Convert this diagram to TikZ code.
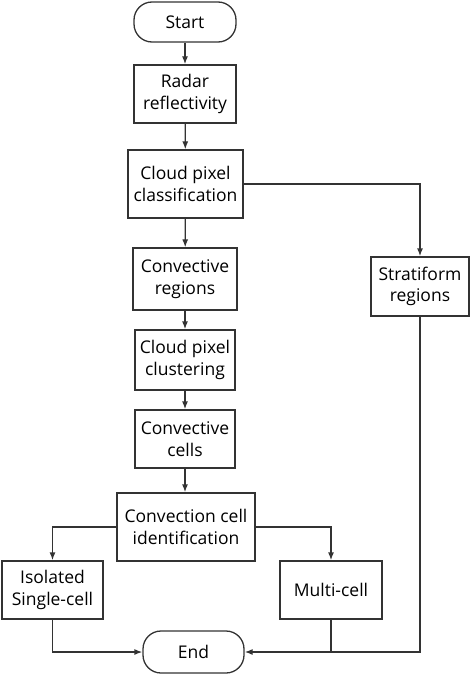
\documentclass[tikz,border=0pt]{standalone}
\usepackage{fontspec}
\setmainfont{Open Sans}
\usetikzlibrary{arrows.meta,positioning}
\begin{document}
\begin{tikzpicture}[x=1pt,y=-1pt,
  every node/.style={font=\fontsize{17.5}{21.5}\selectfont, align=center, inner sep=0pt, line width=1.3pt, draw=black!80},
  boxn/.style={draw, rectangle},
  term/.style={draw, rectangle, rounded corners=18pt},
  conn/.style={draw=black!80, line width=1.3pt, -{Latex[length=8pt,width=6pt]}},
  plain/.style={draw=black!80, line width=1.3pt}]
\useasboundingbox (0,0) rectangle (474,674);
\node[term, minimum width=102pt, minimum height=40pt] (start) at (185,22) {Start};
\node[boxn, minimum width=102pt, minimum height=58pt] (radar) at (185,94) {Radar\\reflectivity};
\node[boxn, minimum width=115pt, minimum height=68pt] (cpc) at (185.5,184) {Cloud pixel\\classification};
\node[boxn, minimum width=104pt, minimum height=62pt] (conv) at (185,279) {Convective\\regions};
\node[boxn, minimum width=100pt, minimum height=60pt] (clust) at (185,360) {Cloud pixel\\clustering};
\node[boxn, minimum width=100pt, minimum height=58pt] (cells) at (185,439) {Convective\\cells};
\node[boxn, minimum width=138pt, minimum height=68pt] (ident) at (186,527) {Convection cell\\identification};
\node[boxn, minimum width=101pt, minimum height=58pt] (iso) at (52.5,590) {Isolated\\Single-cell};
\node[boxn, minimum width=102pt, minimum height=58pt] (multi) at (331,590) {Multi-cell};
\node[boxn, minimum width=98pt, minimum height=59pt] (strat) at (420,286.5) {Stratiform\\regions};
\node[term, minimum width=101pt, minimum height=42pt] (end) at (193.5,652) {End};
\draw[conn] (start) -- (radar);
\draw[conn] (radar) -- (cpc);
\draw[conn] (cpc) -- (conv);
\draw[conn] (conv) -- (clust);
\draw[conn] (clust) -- (cells);
\draw[conn] (cells.south) -- (cells.south |- ident.north);
\draw[conn] (cpc.east) -| (strat.north);
\draw[conn] (ident.west) -| (iso.north);
\draw[conn] (ident.east) -| (multi.north);
\draw[conn] (iso.south) |- (end.west);
\draw[conn] (strat.south) |- (end.east);
\draw[plain] (multi.south) -- (multi.south |- end.east);
\end{tikzpicture}
\end{document}
